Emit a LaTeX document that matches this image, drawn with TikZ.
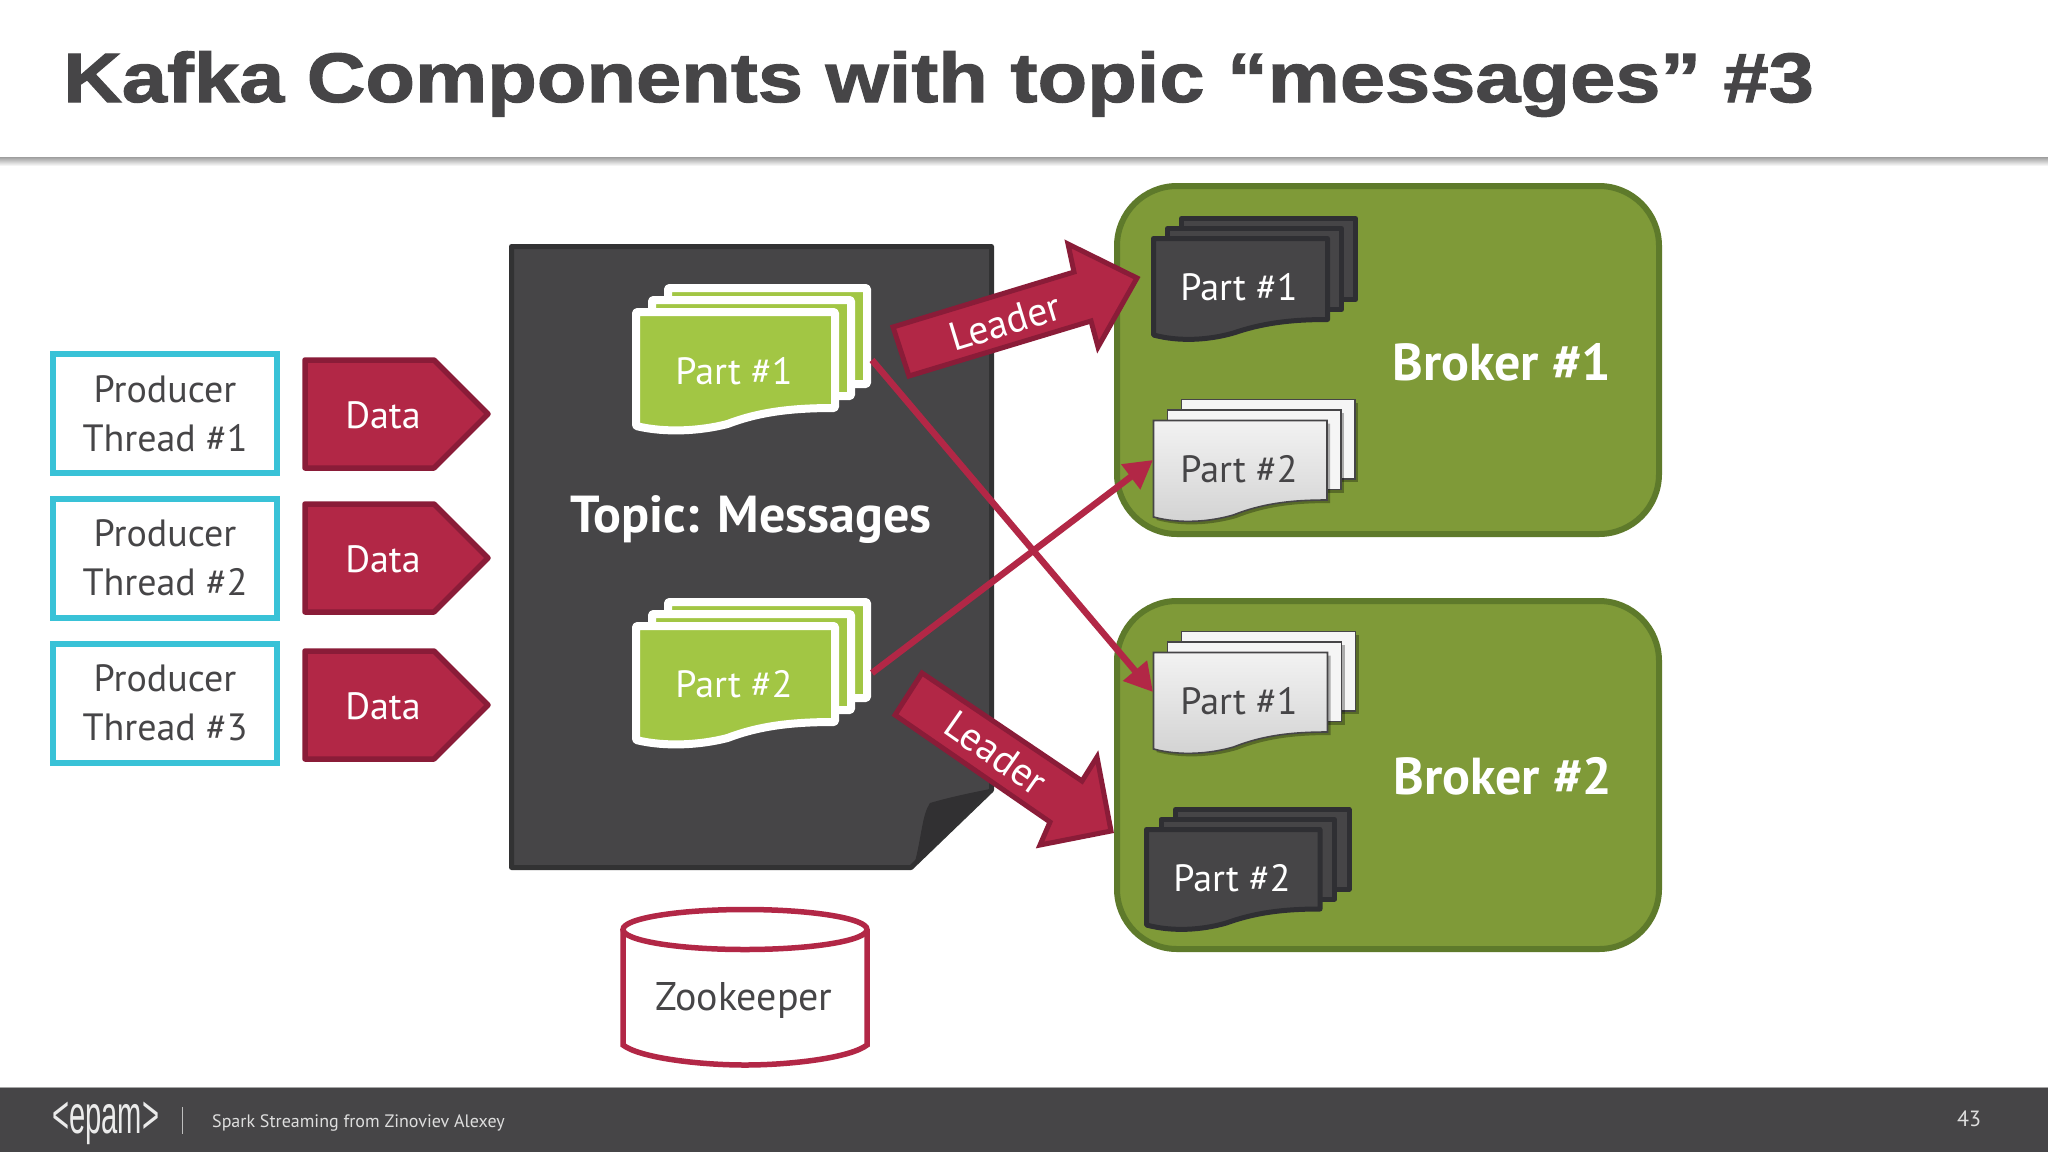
\documentclass[tikz,border=0pt]{standalone}
\usepackage{fontspec}
\setmainfont{PT Sans}
\newfontfamily\titlefont[FakeBold=1.6,FakeStretch=1.16]{Liberation Sans Bold}
\newfontfamily\logofont{Liberation Sans}
\usetikzlibrary{shadows,calc,arrows.meta}
\definecolor{slate}{HTML}{464547}
\definecolor{slatedk}{HTML}{2F2F33}
\definecolor{crimson}{HTML}{B22746}
\definecolor{crimsondk}{HTML}{8A1C38}
\definecolor{lime}{HTML}{A2C644}
\definecolor{moss}{HTML}{7F9A38}
\definecolor{mossdk}{HTML}{5E7A2B}
\definecolor{cyanbox}{HTML}{39C2D7}
\newcommand{\fs}[1]{\fontsize{#1}{#1}\selectfont}
\tikzset{
  x=1pt,y=-1pt,
  producer/.style={draw=cyanbox,line width=6pt,fill=white,text=slate,minimum width=224pt,minimum height=119pt,inner sep=0pt,align=center,font=\fontsize{38}{49}\selectfont},
  datashape/.style={fill=crimson,draw=crimsondk,line width=5.5pt,line join=round},
  datatext/.style={text=white,font=\fs{38},inner sep=0pt},
  broker/.style={draw=mossdk,fill=moss,line width=6pt,rounded corners=60pt,inner sep=0pt,minimum width=542pt,minimum height=348pt},
  brokertext/.style={text=white,font=\fs{52}\bfseries,inner sep=0pt},
  parttextw/.style={text=white,font=\fs{38},inner sep=0pt},
  parttextd/.style={text=slate,font=\fs{38},inner sep=0pt},
  limepage/.style={fill=lime,draw=white,line width=8pt,line join=round,rounded corners=1pt},
  darkpage/.style={fill=slate,draw=slatedk,line width=5pt,line join=round},
  lightfront/.style={top color=white!90!gray,bottom color=gray!35,draw=slate,line width=1.6pt,drop shadow={shadow xshift=3pt,shadow yshift=-3pt,opacity=.3,fill=black}},
  lightback/.style={fill=white!92!gray,draw=slate,line width=1.6pt,drop shadow={shadow xshift=3pt,shadow yshift=-3pt,opacity=.3,fill=black}},
  leader/.style={fill=crimson,draw=crimsondk,line width=5pt,miter limit=10},
  leadertext/.style={text=white,font=\fs{40},inner sep=0pt},
  link/.style={draw=crimson,line width=6.5pt,-{Triangle[length=28pt,width=30pt]},shorten >=0pt},
  anchorbox/.style={inner sep=0pt,outer sep=0pt},
}
% front style, back style, x1, y1, x2, y-right, y-left, dx, dy
\newcommand{\partstack}[9]{%
  \begin{scope}[shift={({2*#8},{2*#9})}]\path[#2] (#3,#4) rectangle (#5,#6);\end{scope}
  \begin{scope}[shift={(#8,#9)}]\path[#2] (#3,#4) rectangle (#5,#6);\end{scope}
  \pgfmathsetmacro{\pgw}{#5-#3}
  \path[#1] (#3,#4) -- (#5,#4) -- (#5,#6)
    .. controls ({#3+.78*\pgw},#6) and ({#3+.62*\pgw},{#6+4}) .. ({#3+.46*\pgw},{#7-2})
    .. controls ({#3+.32*\pgw},{#7+5}) and ({#3+.15*\pgw},{#7+7}) .. (#3,#7) -- cycle;
}
\newcommand{\datashape}[2]{%
  \path[datashape] (305,#1) -- (434,#1) -- (488,{(#1+#2)/2}) -- (434,#2) -- (305,#2) -- cycle;
}
\begin{document}
\begin{tikzpicture}
\useasboundingbox (0,0) rectangle (2048,1152);
\fill[white] (0,0) rectangle (2048,1152);
% header
\node[anchor=base west,inner sep=0pt,text=slate,font=\titlefont\fs{70}] (title) at (63,102) {Kafka Components with topic “messages” \#3};
\shade[top color=black!38,bottom color=white] (0,157) rectangle (2048,166);
% footer
\fill[slate] (0,1088) rectangle (2048,1152);
\draw[black!35,line width=1pt] (0,1087.5) -- (2048,1087.5);
\node[anchor=base west,inner sep=0pt,text=white!92!black,font=\logofont\fs{54},xscale=.54] (logo) at (52,1133) {<epam>};
\draw[white!65!slate,line width=1pt] (182,1107) -- (182,1134);
\node[anchor=base west,inner sep=0pt,text=white!82!slate,font=\fs{18}] (footer) at (212,1127) {Spark Streaming from Zinoviev Alexey};
\node[inner sep=0pt,text=white!82!slate,font=\fs{22}] (page) at (1969,1119) {43};
% producers
\node[producer] (pr1) at (165,413.5) {Producer\\Thread \#1};
\node[producer] (pr2) at (165,558) {Producer\\Thread \#2};
\node[producer] (pr3) at (165,703) {Producer\\Thread \#3};
% data
\datashape{360}{468}
\datashape{504}{612}
\datashape{651}{759}
\node[datatext] (d1) at (383,415) {Data};
\node[datatext] (d2) at (383,559) {Data};
\node[datatext] (d3) at (383,706) {Data};
% topic document
\path[fill=slate,draw=black!20!slate!90!black,line width=5pt,line join=round]
  (511.5,246.5) -- (991.5,246.5) -- (991.5,790) -- (911,867.5) -- (511.5,867.5) -- cycle;
\path[fill=black!30!slate] (914,866) .. controls (922,835) and (922,815) .. (930,803)
  .. controls (950,797) and (975,792) .. (990,789) -- cycle;
\node[text=white,font=\fs{52}\bfseries,inner sep=0pt] (topic) at (751,520) {Topic: Messages};
% topic parts
\partstack{limepage}{limepage}{636}{312}{835}{408}{426}{16}{-12}
\partstack{limepage}{limepage}{636}{626}{835}{722}{740}{16}{-12}
\node[anchorbox,minimum width=240pt,minimum height=152pt] (tp1) at (752,360) {};
\node[anchorbox,minimum width=240pt,minimum height=152pt] (tp2) at (752,673) {};
\node[parttextw] (tp1t) at (734,371) {Part \#1};
\node[parttextw] (tp2t) at (734,684) {Part \#2};
% brokers
\node[broker] (b1) at (1388,360) {};
\node[broker] (b2) at (1388,775) {};
\node[brokertext] (b1t) at (1502,362) {Broker \#1};
\node[brokertext] (b2t) at (1503,776) {Broker \#2};
% broker parts
\partstack{darkpage}{darkpage}{1153.5}{238.5}{1327.5}{319.5}{335}{14}{-10}
\partstack{lightfront}{lightback}{1153.5}{420.5}{1327}{500}{517}{14}{-10.5}
\partstack{lightfront}{lightback}{1153.5}{652.5}{1327.5}{732}{749}{14}{-10.5}
\partstack{darkpage}{darkpage}{1146.5}{829.5}{1320}{909}{925}{14.5}{-10}
\node[anchorbox,minimum width=174pt,minimum height=80pt] (b1p2) at (1240,460) {};
\node[anchorbox,minimum width=174pt,minimum height=80pt] (b2p1) at (1240,692) {};
\node[parttextw] (b1p1t) at (1239,287) {Part \#1};
\node[parttextd] (b1p2t) at (1239,469) {Part \#2};
\node[parttextd] (b2p1t) at (1239,701) {Part \#1};
\node[parttextw] (b2p2t) at (1232,878) {Part \#2};
% links
\draw[link] (tp1.east) -- (b2p1.west);
\draw[link] (tp2.east) -- (b1p2.west);
% leaders
\path[leader] (893,327) -- (1074,272) -- (1068,244) -- (1137,278) -- (1098,347) -- (1091,321) -- (909,376) -- cycle;
\path[leader] (922,673) -- (1082,781) -- (1097,757) -- (1111,831) -- (1040,845) -- (1050,822) -- (895,715) -- cycle;
\node[leadertext,rotate=17] (l1) at (1005,322) {Leader};
\node[leadertext,rotate=-35] (l2) at (996,753) {Leader};
% zookeeper
\path[fill=white,draw=crimson,line width=5.5pt] (623,929.5) -- (623,1045) .. controls (640,1058) and (700,1065) .. (745,1065) .. controls (790,1065) and (850,1058) .. (867,1045) -- (867,929.5);
\path[fill=white,draw=crimson,line width=5.5pt] (745,929.5) ellipse [x radius=122,y radius=20];
\node[text=slate,font=\fs{40},inner sep=0pt] (zk) at (744,1000) {Zookeeper};
\end{tikzpicture}
\end{document}
